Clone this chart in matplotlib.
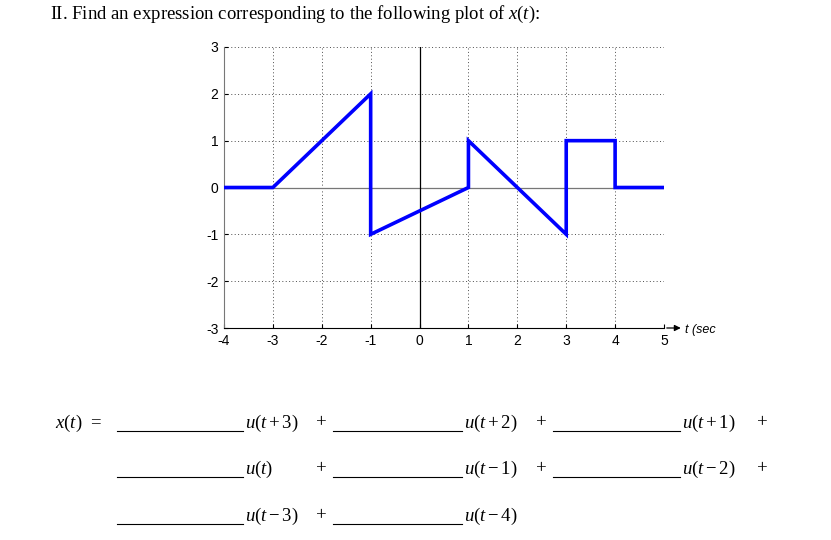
"""Piecewise signal x(t) worksheet figure."""
import matplotlib
matplotlib.use('Agg')
from matplotlib import pyplot as plt

plt.rcParams['mathtext.fontset'] = 'custom'
plt.rcParams['mathtext.rm'] = 'Liberation Serif'
plt.rcParams['mathtext.it'] = 'Liberation Serif:italic'
plt.rcParams['axes.unicode_minus'] = False

# breakpoints of x(t)
t_pts = [-4, -3, -1, -1, 1, 1, 3, 3, 4, 4, 5]
x_pts = [0, 0, 2, -1, 0, 1, -1, 1, 1, 0, 0]
x_ticks = [-4, -3, -2, -1, 0, 1, 2, 3, 4, 5]
y_ticks = [-3, -2, -1, 0, 1, 2, 3]

# worksheet rows: step terms
row1 = [r'$u(t+3)$', r'$u(t+2)$', r'$u(t+1)$']
row2 = [r'$u(t)$', r'$u(t-1)$', r'$u(t-2)$']
row3 = [r'$u(t-3)$', r'$u(t-4)$']

fig = plt.figure(figsize=(8.31, 5.4), dpi=100)
serif = 'Liberation Serif'

fig.text(50 / 831, 1 - 14 / 540, 'II. Find an expression corresponding to the following plot of $x(t)$:',
         family=serif, fontsize=13.5, va='center', ha='left')

ax = fig.add_axes([224 / 831, 1 - 328 / 540, 440 / 831, 281 / 540])
ax.plot(t_pts, x_pts, color='#0000ff', lw=2.6, zorder=3, solid_joinstyle='miter')
ax.set_xlim(-4, 5)
ax.set_ylim(-3, 3)
ax.set_xticks(x_ticks)
ax.set_yticks(y_ticks)
ax.grid(True, linestyle=(0, (1, 2.5)), color='k', lw=0.7, alpha=0.7)
ax.axhline(0, color='#777777', lw=0.9, zorder=2)
ax.axvline(0, color='k', lw=0.9, zorder=2)
for s in ['top', 'right']:
    ax.spines[s].set_visible(False)
ax.spines['left'].set_color('#777777')
ax.spines['bottom'].set_color('k')
ax.tick_params(direction='in', length=3, labelsize=10, pad=4)
for lab in ax.get_xticklabels() + ax.get_yticklabels():
    lab.set_family('Liberation Sans')
ax.annotate('', xy=(5.4, -3), xytext=(5, -3), annotation_clip=False,
            arrowprops=dict(arrowstyle='-|>', color='k', lw=0.9, mutation_scale=9))
ax.text(5.43, -3.04, 't (sec', fontsize=9, style='italic', va='center', ha='left',
        family='Liberation Sans', clip_on=False)

# equation rows
rows = [row1, row2, row3]
row_y = [423, 469, 516]
blank_x = [(117, 243), (333, 462), (553, 680)]
plus_x = [316, 536, 757]
fig.text(55 / 831, 1 - row_y[0] / 540, '$x(t)$  =', family=serif, fontsize=13.5, va='center')
for r, terms in enumerate(rows):
    yy = 1 - row_y[r] / 540
    for c, term in enumerate(terms):
        x0, x1 = blank_x[c]
        fig.add_artist(plt.Line2D([x0 / 831, x1 / 831], [yy - 8 / 540, yy - 8 / 540],
                                  color='k', lw=0.8))
        fig.text((x1 + 2) / 831, yy, term, family=serif, fontsize=13.5, va='center')
        if not (r == 2 and c == 1):
            fig.text(plus_x[c] / 831, yy, '+', family=serif, fontsize=13.5, va='center')

fig.savefig('out.png', dpi=100)
